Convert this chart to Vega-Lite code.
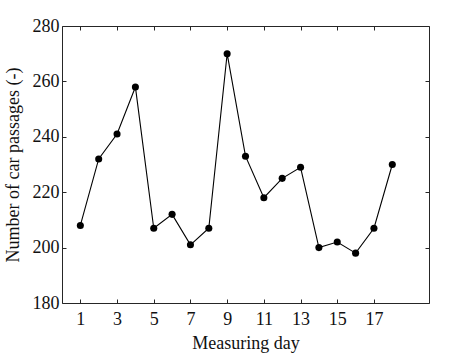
{
  "$schema": "https://vega.github.io/schema/vega-lite/v6.json",
  "width": 367,
  "height": 277,
  "autosize": "none",
  "padding": {"left": 62, "top": 26, "right": 45, "bottom": 52},
  "background": "white",
  "config": {
    "view": {"stroke": null},
    "font": "Liberation Serif, serif",
    "axis": {
      "grid": false,
      "domainColor": "#262626",
      "tickColor": "#262626",
      "domainWidth": 1,
      "tickWidth": 1,
      "tickSize": -4,
      "labelFont": "Liberation Serif, serif",
      "labelFontSize": 18,
      "labelColor": "#111",
      "titleFont": "Liberation Serif, serif",
      "titleFontSize": 18,
      "titleFontWeight": "normal",
      "titleColor": "#111"
    }
  },
  "data": {
    "values": [
      {"day": 1, "count": 208},
      {"day": 2, "count": 232},
      {"day": 3, "count": 241},
      {"day": 4, "count": 258},
      {"day": 5, "count": 207},
      {"day": 6, "count": 212},
      {"day": 7, "count": 201},
      {"day": 8, "count": 207},
      {"day": 9, "count": 270},
      {"day": 10, "count": 233},
      {"day": 11, "count": 218},
      {"day": 12, "count": 225},
      {"day": 13, "count": 229},
      {"day": 14, "count": 200},
      {"day": 15, "count": 202},
      {"day": 16, "count": 198},
      {"day": 17, "count": 207},
      {"day": 18, "count": 230}
    ]
  },
  "layer": [
    {
      "encoding": {
        "x": {
          "field": "day", "type": "quantitative",
          "scale": {"domain": [0, 20], "nice": false, "zero": false},
          "axis": {"orient": "bottom", "values": [1, 3, 5, 7, 9, 11, 13, 15, 17], "title": "Measuring day", "labelPadding": 11, "titlePadding": 6}
        },
        "y": {
          "field": "count", "type": "quantitative",
          "scale": {"domain": [180, 280], "nice": false, "zero": false},
          "axis": {"orient": "left", "values": [180, 200, 220, 240, 260, 280], "title": "Number of car passages (-)", "labelPadding": 7, "titlePadding": 10}
        }
      },
      "layer": [
        {"mark": {"type": "line", "color": "black", "strokeWidth": 1.1}},
        {"mark": {"type": "point", "filled": true, "color": "black", "opacity": 1, "size": 50}}
      ]
    },
    {
      "mark": {"type": "point", "opacity": 0},
      "encoding": {
        "x": {
          "field": "day", "type": "quantitative",
          "scale": {"domain": [0, 20], "nice": false, "zero": false},
          "axis": {"orient": "top", "values": [1, 3, 5, 7, 9, 11, 13, 15, 17], "labels": false, "title": null}
        },
        "y": {
          "field": "count", "type": "quantitative",
          "scale": {"domain": [180, 280], "nice": false, "zero": false},
          "axis": {"orient": "right", "values": [180, 200, 220, 240, 260, 280], "labels": false, "title": null}
        }
      }
    }
  ],
  "resolve": {
    "scale": {"x": "independent", "y": "independent"},
    "axis": {"x": "independent", "y": "independent"}
  }
}
